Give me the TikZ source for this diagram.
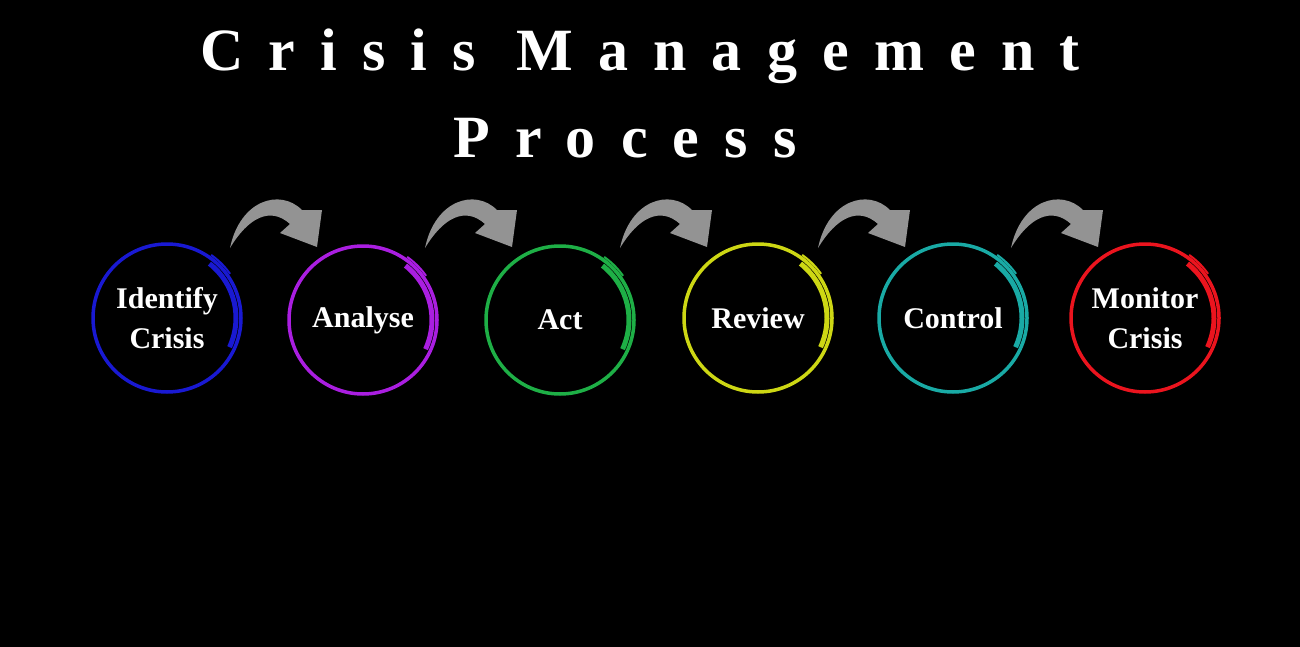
\documentclass[tikz,border=0pt]{standalone}
\usepackage{fontspec}
\setmainfont{Liberation Serif}
\begin{document}
\begin{tikzpicture}[x=1pt,y=-1pt,
  ring/.style={line width=3.5pt},
  lbl/.style={text=white,font=\fontsize{30}{40}\selectfont\bfseries,align=center},
  garrow/.style={fill=gray!85!white,draw=none}]
\fill[black] (0,0) rectangle (1300,647);
\useasboundingbox (0,0) rectangle (1300,647);
\node[text=white,font=\fontsize{60}{70}\selectfont\bfseries\addfontfeature{LetterSpace=42}] (t1) at (640,56) {Crisis Management};
\node[text=white,font=\fontsize{60}{70}\selectfont\bfseries\addfontfeature{LetterSpace=42}] (t2) at (625,138) {Process};
\foreach \n/\cx/\cy/\col/\txt in {a/167/318/{rgb,255:red,25;green,25;blue,210}/{Identify\\Crisis},
  b/363/320/{rgb,255:red,170;green,30;blue,225}/{Analyse},
  c/560/320/{rgb,255:red,30;green,175;blue,70}/{Act},
  d/758/318/{rgb,255:red,205;green,215;blue,20}/{Review},
  e/953/318/{rgb,255:red,25;green,170;blue,165}/{Control},
  f/1145/318/{rgb,255:red,235;green,20;blue,30}/{Monitor\\Crisis}}{
  \draw[ring,color=\col] (\cx,\cy) circle (74);
  \draw[line width=5pt,color=\col] (\cx,\cy) ++(-52:69) arc[start angle=-52,end angle=25,radius=69];
  \draw[line width=2pt,color=\col] (\cx,\cy) ++(-35:77) arc[start angle=-35,end angle=-55,radius=77];
  \node[lbl] (\n) at (\cx,\cy) {\txt};
}
\foreach \dx in {0,195,390,588,781}{
  \fill[garrow,shift={(\dx,0)}] (230,248) .. controls (240,200) and (280,188) .. (302,210)
    -- (322,210) -- (317,247) -- (280,233) -- (290,224)
    .. controls (270,206) and (248,218) .. (230,248) -- cycle;
}
\end{tikzpicture}
\end{document}
